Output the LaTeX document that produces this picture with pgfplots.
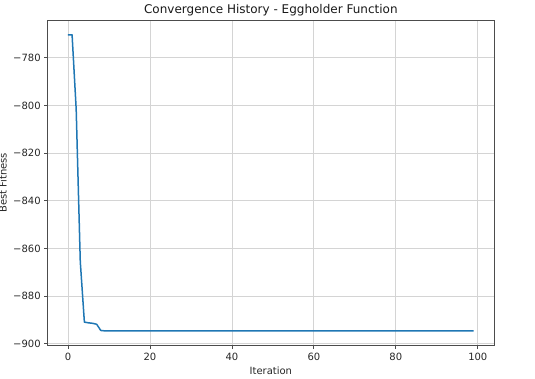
\documentclass[border=0pt]{standalone}
\usepackage{fontspec}
\setmainfont{DejaVu Sans}
\usepackage{pgfplots}
\pgfplotsset{compat=1.18}
\definecolor{mplblue}{HTML}{1F77B4}
\begin{document}
\begin{tikzpicture}[x=1pt,y=1pt]
\useasboundingbox (0,0) rectangle (535,379);
\begin{axis}[
  at={(47.7pt,33.3pt)}, anchor=south west,
  width=446.3pt, height=325.7pt, scale only axis,
  xmin=-4.95, xmax=103.95, ymin=-900.8, ymax=-764.1,
  xtick={0,20,40,60,80,100}, ytick={-900,-880,-860,-840,-820,-800,-780},
  xticklabels={0,20,40,60,80,100},
  yticklabels={−900,−880,−860,−840,−820,−800,−780},
  grid=major, major grid style={color=black!17, line width=0.8pt},
  axis line style={black!70, line width=0.8pt},
  tick style={black!70, line width=0.8pt},
  tick align=outside, major tick length=3.5pt,
  xtick pos=bottom, ytick pos=left,
  ticklabel style={font=\fontsize{10}{12}\selectfont, text=black!85},
  title={Convergence History - Eggholder Function},
  title style={font=\fontsize{12}{14}\selectfont, text=black!90, yshift=-6pt},
  xlabel={Iteration}, ylabel={Best Fitness},
  label style={font=\fontsize{10}{12}\selectfont, text=black!85},
  ylabel style={at={(axis description cs:0,0.5)}, anchor=center, yshift=44.7pt},
  xlabel style={yshift=0pt},
]
\addplot[color=mplblue, line width=1.5pt, line join=round] coordinates {
(0,-770.3) (1,-770.3) (2,-801.5) (3,-865.5) (4,-890.9) (5,-891.2) (6,-891.4) (7,-891.8) (8,-894.4) (9,-894.58)
(10,-894.58) (11,-894.58) (12,-894.58) (13,-894.58) (14,-894.58) (15,-894.58) (16,-894.58) (17,-894.58) (18,-894.58) (19,-894.58)
(20,-894.58) (21,-894.58) (22,-894.58) (23,-894.58) (24,-894.58) (25,-894.58) (26,-894.58) (27,-894.58) (28,-894.58) (29,-894.58)
(30,-894.58) (31,-894.58) (32,-894.58) (33,-894.58) (34,-894.58) (35,-894.58) (36,-894.58) (37,-894.58) (38,-894.58) (39,-894.58)
(40,-894.58) (41,-894.58) (42,-894.58) (43,-894.58) (44,-894.58) (45,-894.58) (46,-894.58) (47,-894.58) (48,-894.58) (49,-894.58)
(50,-894.58) (51,-894.58) (52,-894.58) (53,-894.58) (54,-894.58) (55,-894.58) (56,-894.58) (57,-894.58) (58,-894.58) (59,-894.58)
(60,-894.58) (61,-894.58) (62,-894.58) (63,-894.58) (64,-894.58) (65,-894.58) (66,-894.58) (67,-894.58) (68,-894.58) (69,-894.58)
(70,-894.58) (71,-894.58) (72,-894.58) (73,-894.58) (74,-894.58) (75,-894.58) (76,-894.58) (77,-894.58) (78,-894.58) (79,-894.58)
(80,-894.58) (81,-894.58) (82,-894.58) (83,-894.58) (84,-894.58) (85,-894.58) (86,-894.58) (87,-894.58) (88,-894.58) (89,-894.58)
(90,-894.58) (91,-894.58) (92,-894.58) (93,-894.58) (94,-894.58) (95,-894.58) (96,-894.58) (97,-894.58) (98,-894.58) (99,-894.58)
};
\end{axis}
\end{tikzpicture}
\end{document}
